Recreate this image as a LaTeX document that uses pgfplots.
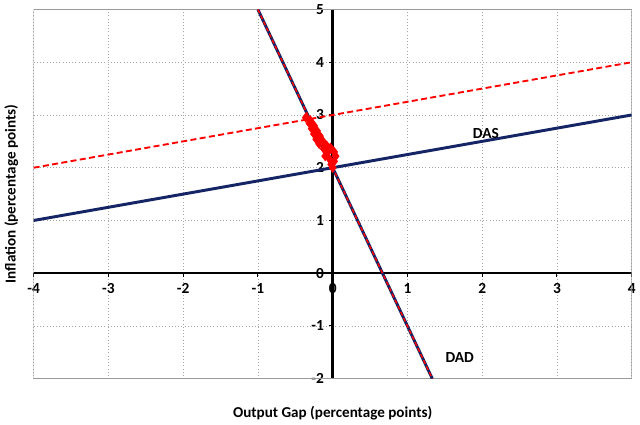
\documentclass[border=0pt]{standalone}
\usepackage{pgfplots}
\pgfplotsset{compat=1.18}
\usepackage{fontspec}
\setmainfont{Carlito}
\definecolor{navy}{RGB}{20,36,100}
\begin{document}
\begin{tikzpicture}
\begin{axis}[
  scale only axis, width=447pt, height=276pt,
  xmin=-4, xmax=4, ymin=-2, ymax=5,
  axis lines=middle,
  axis line style={black, line width=1.8pt, -},
  xtick={-4,...,4}, ytick={-2,...,5},
  hide obscured x ticks=false, hide obscured y ticks=false,
  tick style={black, line width=0.8pt},
  major tick length=3pt,
  tick align=outside,
  grid=major,
  grid style={gray!70, dotted, line width=0.6pt},
  ticklabel style={font=\bfseries\fontsize{11.5}{13}\selectfont},
  /pgf/number format/assume math mode=true,
  xticklabel style={yshift=-1pt},
  xlabel={\bfseries Output Gap (percentage points)},
  ylabel={\bfseries Inflation (percentage points)},
  label style={font=\bfseries\fontsize{11.3}{13}\selectfont},
  xlabel style={at={(rel axis cs:0.5,0)}, anchor=north, yshift=-17pt},
  ylabel style={at={(rel axis cs:0,0.5)}, anchor=south, rotate=90, yshift=8pt},
  clip=true,
]
\draw[gray!80, line width=0.6pt] (rel axis cs:0,0) rectangle (rel axis cs:1,1);
% DAS (original)
\addplot[navy, line width=2.2pt] coordinates {(-4,1) (4,3)};
% DAS shifted
\addplot[red, line width=1.4pt, dash pattern=on 4.5pt off 2.5pt] coordinates {(-4,2) (4,4)};
% DAD
\addplot[navy, line width=2.2pt] coordinates {(-1,5) (1.3333,-2)};
\addplot[red, line width=1.1pt, dash pattern=on 3pt off 2pt] coordinates {(-1,5) (1.3333,-2)};
% adjustment path
\addplot[red, only marks, mark=diamond*, mark size=3.5pt, mark options={fill=red, draw=red}] coordinates {
(-0.36,2.95) (-0.30,2.90) (-0.31,2.84) (-0.25,2.80) (-0.28,2.74) (-0.21,2.70) (-0.25,2.64)
(-0.17,2.60) (-0.22,2.54) (-0.13,2.50) (-0.18,2.45) (-0.08,2.42) (-0.12,2.36) (-0.03,2.38)
(-0.06,2.30) (0.02,2.30) (-0.10,2.22) (0.04,2.22) (-0.04,2.16) (0.02,2.12) (-0.02,2.06) (0.00,2.00)};
\node[font=\bfseries\fontsize{11.5}{13}\selectfont] at (axis cs:2.05,2.64) {DAS};
\node[font=\bfseries\fontsize{11.5}{13}\selectfont] at (axis cs:1.7,-1.6) {DAD};
\end{axis}
\end{tikzpicture}
\end{document}
